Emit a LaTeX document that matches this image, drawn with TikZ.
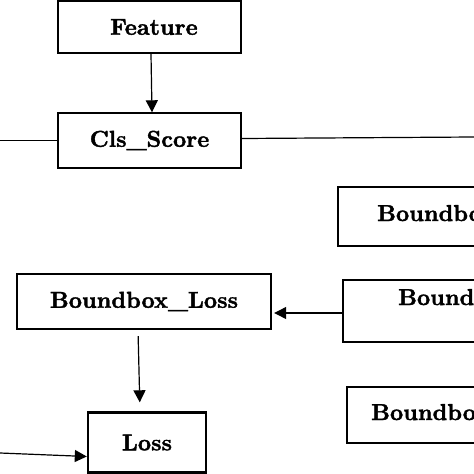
\documentclass[tikz,border=0pt]{standalone}
\usepackage{fontspec}
\usetikzlibrary{arrows.meta}
\newfontfamily\heavyfont{lmroman10-bold}[Extension=.otf, FakeBold=1.6]
\newcommand\boxtxt[1]{{\heavyfont\fontsize{23}{27}\selectfont #1}}
\tikzset{
  boxnode/.style={draw=black, line width=2.4pt, rectangle, inner sep=0pt},
  lbl/.style={inner sep=0pt, text=black},
  conn/.style={draw=black, line width=1.2pt},
  arr/.style={conn, -{Triangle[length=12pt,width=12pt]}}
}
\begin{document}
\begin{tikzpicture}[x=1pt,y=-1pt]
\useasboundingbox (0,0) rectangle (474,474);
\clip (0,0) rectangle (474,474);
\fill[white] (0,0) rectangle (474,474);
% boxes
\node[boxnode, minimum width=183pt, minimum height=52pt] (feat) at (149.5,27) {};
\node[lbl] (featt) at (154,27) {\boxtxt{Feature}};
\node[boxnode, minimum width=183pt, minimum height=55pt] (cls) at (149.5,140.5) {\boxtxt{Cls\_Score}};
\node[boxnode, minimum width=254pt, minimum height=55pt] (bl) at (144,301.5) {\boxtxt{Boundbox\_Loss}};
\node[boxnode, minimum width=118pt, minimum height=60pt] (loss) at (147,442.5) {\boxtxt{Loss}};
\node[boxnode, minimum width=262pt, minimum height=59pt] (r1) at (469,216.5) {};
\node[boxnode, minimum width=262pt, minimum height=62pt] (r2) at (474,311) {};
\node[boxnode, minimum width=262pt, minimum height=56pt] (r3) at (478,415) {};
\node[lbl, anchor=base west] (r1t) at (377,221) {\boxtxt{Boundbox}};
\node[lbl, anchor=base west] (r2t) at (398,305) {\boxtxt{Boundbox}};
\node[lbl, anchor=base west] (r3t) at (371,420) {\boxtxt{Boundbox}};
% free ends
\coordinate (lA) at (0,140.5);
\coordinate (rA) at (474,137);
\coordinate (lB) at (0,453);
% connectors
\draw[arr] ([xshift=1.5pt]feat.south) -- ([xshift=2.5pt,yshift=-0.5pt]cls.north);
\draw[conn] (lA) -- (cls.west);
\draw[conn] ([yshift=2pt]cls.east) -- (rA);
\draw[arr, shorten >=2pt] (r2.west |- 0,313) -- (bl.east |- 0,313);
\draw[arr, shorten <=6pt, shorten >=9pt] ([xshift=-6pt]bl.south) -- ([xshift=-7pt]loss.north);
\draw[arr] (lB) -- ([yshift=-14pt]loss.west);
\end{tikzpicture}
\end{document}
